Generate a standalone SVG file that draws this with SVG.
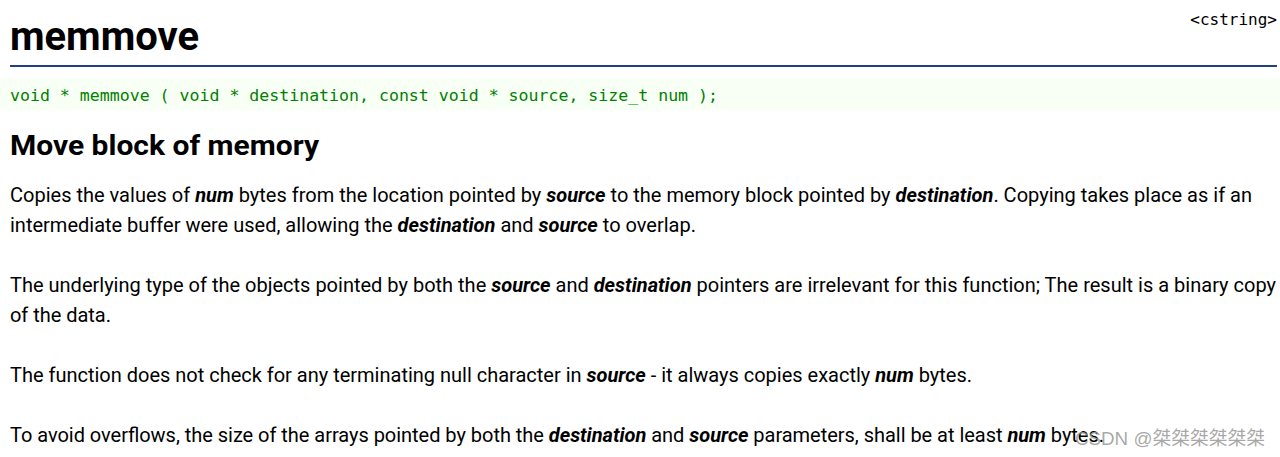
<svg xmlns="http://www.w3.org/2000/svg" width="1280" height="457" viewBox="0 0 1280 457">
<style>
.b{font-family:Roboto,"Liberation Sans",sans-serif;font-size:20px;fill:#000}
.e{font-weight:bold;font-style:italic}
.m{font-family:"DejaVu Sans Mono","Liberation Mono",monospace}
</style>
<rect width="1280" height="457" fill="#fff"/>
<text x="10" y="50" font-family="Roboto,'Liberation Sans',sans-serif" font-weight="bold" font-size="40" textLength="189" lengthAdjust="spacingAndGlyphs">memmove</text>
<text class="m" x="1277" y="25" font-size="16" text-anchor="end" fill="#000">&lt;cstring&gt;</text>
<rect x="10" y="65" width="1267" height="2" fill="#223f7f"/>
<rect x="0" y="78" width="1280" height="32" fill="#f8fff4"/>
<text class="m" x="10" y="101" font-size="16.4" fill="#008000" textLength="708" lengthAdjust="spacingAndGlyphs">void * memmove ( void * destination, const void * source, size_t num );</text>
<text x="10" y="155" font-family="Roboto,'Liberation Sans',sans-serif" font-weight="bold" font-size="28" textLength="309" lengthAdjust="spacingAndGlyphs">Move block of memory</text>
<text class="b" x="10" y="202" textLength="1242" lengthAdjust="spacing">Copies the values of <tspan class="e">num</tspan> bytes from the location pointed by <tspan class="e">source</tspan> to the memory block pointed by <tspan class="e">destination</tspan>. Copying takes place as if an</text>
<text class="b" x="10" y="232" textLength="686" lengthAdjust="spacing">intermediate buffer were used, allowing the <tspan class="e">destination</tspan> and <tspan class="e">source</tspan> to overlap.</text>
<text class="b" x="10" y="292" textLength="1266" lengthAdjust="spacing">The underlying type of the objects pointed by both the <tspan class="e">source</tspan> and <tspan class="e">destination</tspan> pointers are irrelevant for this function; The result is a binary copy</text>
<text class="b" x="10" y="322" textLength="101" lengthAdjust="spacing">of the data.</text>
<text class="b" x="10" y="382" textLength="962" lengthAdjust="spacing">The function does not check for any terminating null character in <tspan class="e">source</tspan> - it always copies exactly <tspan class="e">num</tspan> bytes.</text>
<text class="b" x="10" y="442" textLength="1094" lengthAdjust="spacing">To avoid overflows, the size of the arrays pointed by both the <tspan class="e">destination</tspan> and <tspan class="e">source</tspan> parameters, shall be at least <tspan class="e">num</tspan> bytes.</text>
<text x="1075" y="445" font-family="'Liberation Sans','Noto Sans CJK SC',sans-serif" font-size="19" fill="#999" fill-opacity="0.85" textLength="190" lengthAdjust="spacingAndGlyphs">CSDN @桀桀桀桀桀桀</text>
</svg>
